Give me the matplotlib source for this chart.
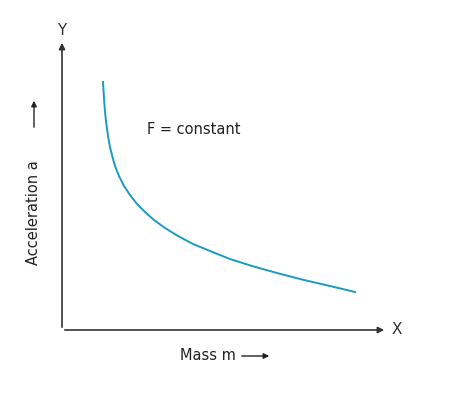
import matplotlib
matplotlib.use("Agg")
import matplotlib.pyplot as plt

# curve (units: pixels from the origin)
mass = [41, 42, 43, 44.5, 46, 48, 50.5, 53, 57, 62, 68, 75, 83, 92, 103, 116,
        131, 148, 168, 190, 215, 242, 268, 293]
accel = [248, 232, 218, 205, 194, 183, 173, 164, 154, 144, 135, 126, 118, 110,
         102, 94, 86, 79, 71, 64, 57, 50, 44, 38]

fig = plt.figure(figsize=(4.57, 4.07), dpi=100)
ax = fig.add_axes([0, 0, 1, 1])
ox, oy = 62, 77  # origin in figure pixels (from bottom-left)
ax.set_xlim(-ox, 457 - ox)
ax.set_ylim(-oy, 407 - oy)
ax.axis("off")

ax.plot(mass, accel, color="#1a9bbf", lw=1.4)

arrow = dict(arrowstyle="-|>", color="#333333", lw=1.2, mutation_scale=9)
ax.annotate("", xy=(325, 0), xytext=(0, 0), arrowprops=arrow)
ax.annotate("", xy=(0, 290), xytext=(0, 0), arrowprops=arrow)
ax.text(330, 0, "X", va="center", ha="left", fontsize=11, color="#333333")
ax.text(0, 292, "Y", va="bottom", ha="center", fontsize=11, color="#333333")

ax.text(85, 200, "F = constant", fontsize=10.5, color="#222222", va="center")
ax.text(118, -26, "Mass m", fontsize=10.5, color="#222222", va="center")
ax.annotate("", xy=(210, -26), xytext=(177, -26),
            arrowprops=dict(arrowstyle="-|>", color="#222222", lw=1, mutation_scale=8))
ax.text(-28, 65, "Acceleration a", fontsize=10.5, color="#222222",
        rotation=90, ha="center", va="bottom")
ax.annotate("", xy=(-28, 232), xytext=(-28, 200),
            arrowprops=dict(arrowstyle="-|>", color="#222222", lw=1, mutation_scale=8))

fig.savefig("out.png", dpi=100)
